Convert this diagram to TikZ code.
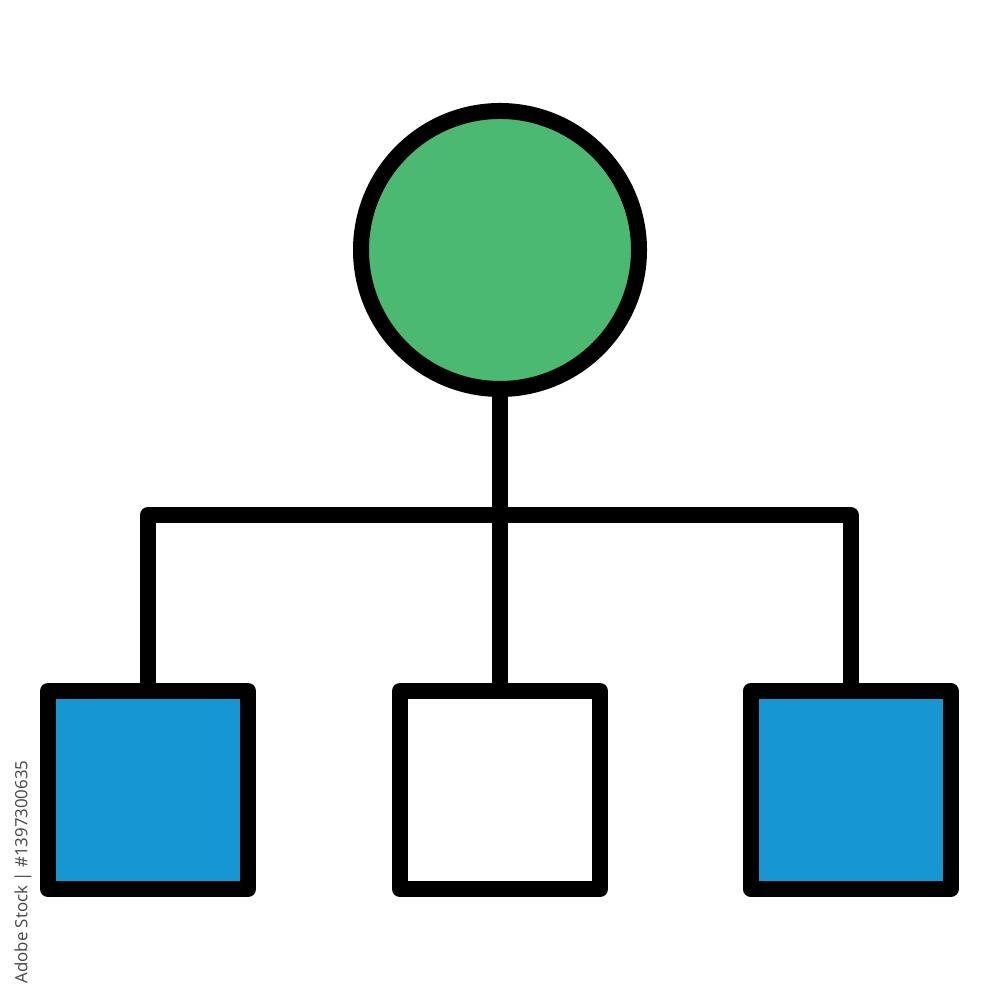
\documentclass[tikz,border=0pt]{standalone}
\usepackage{fontspec}
\usepackage{tikz}
\usetikzlibrary{positioning, calc}
\newfontfamily\stockfont{Open Sans}
\definecolor{rootgreen}{RGB}{76,185,115}
\definecolor{leafblue}{RGB}{23,150,212}
\definecolor{stockgray}{RGB}{70,70,70}
\tikzset{
    leafbox/.style={rectangle,draw=black,line width=0.16cm,line join=round,minimum width=2.0cm,minimum height=1.98cm,inner sep=0pt},
    link/.style={draw=black,line width=0.16cm,line join=round}
}

\begin{document}
\begin{tikzpicture}
    \useasboundingbox (0,0) rectangle (10,10);
    \fill[white] (0,0) rectangle (10,10);

    % Nodo radice
    \node[circle,draw=black,fill=rootgreen,line width=0.16cm,minimum size=2.78cm,inner sep=0pt] (root) at (5,7.5) {};

    % Nodi figli
    \node[leafbox,fill=leafblue] (left) at (1.48,2.10) {};
    \node[leafbox,fill=white] (mid) at (5,2.10) {};
    \node[leafbox,fill=leafblue] (right) at (8.505,2.10) {};

    % Collegamenti
    \coordinate (split) at (5,4.85);
    \draw[link] (root.south) -- (mid.north);
    \draw[link] (left.north) |- (split) -| (right.north);

    % Scritta laterale
    \node[rotate=90,font=\stockfont\fontsize{4.8}{6}\selectfont,text=stockgray,inner sep=0pt] (stockid) at (0.23,1.28) {Adobe Stock | \#1397300635};
\end{tikzpicture}
\end{document}
